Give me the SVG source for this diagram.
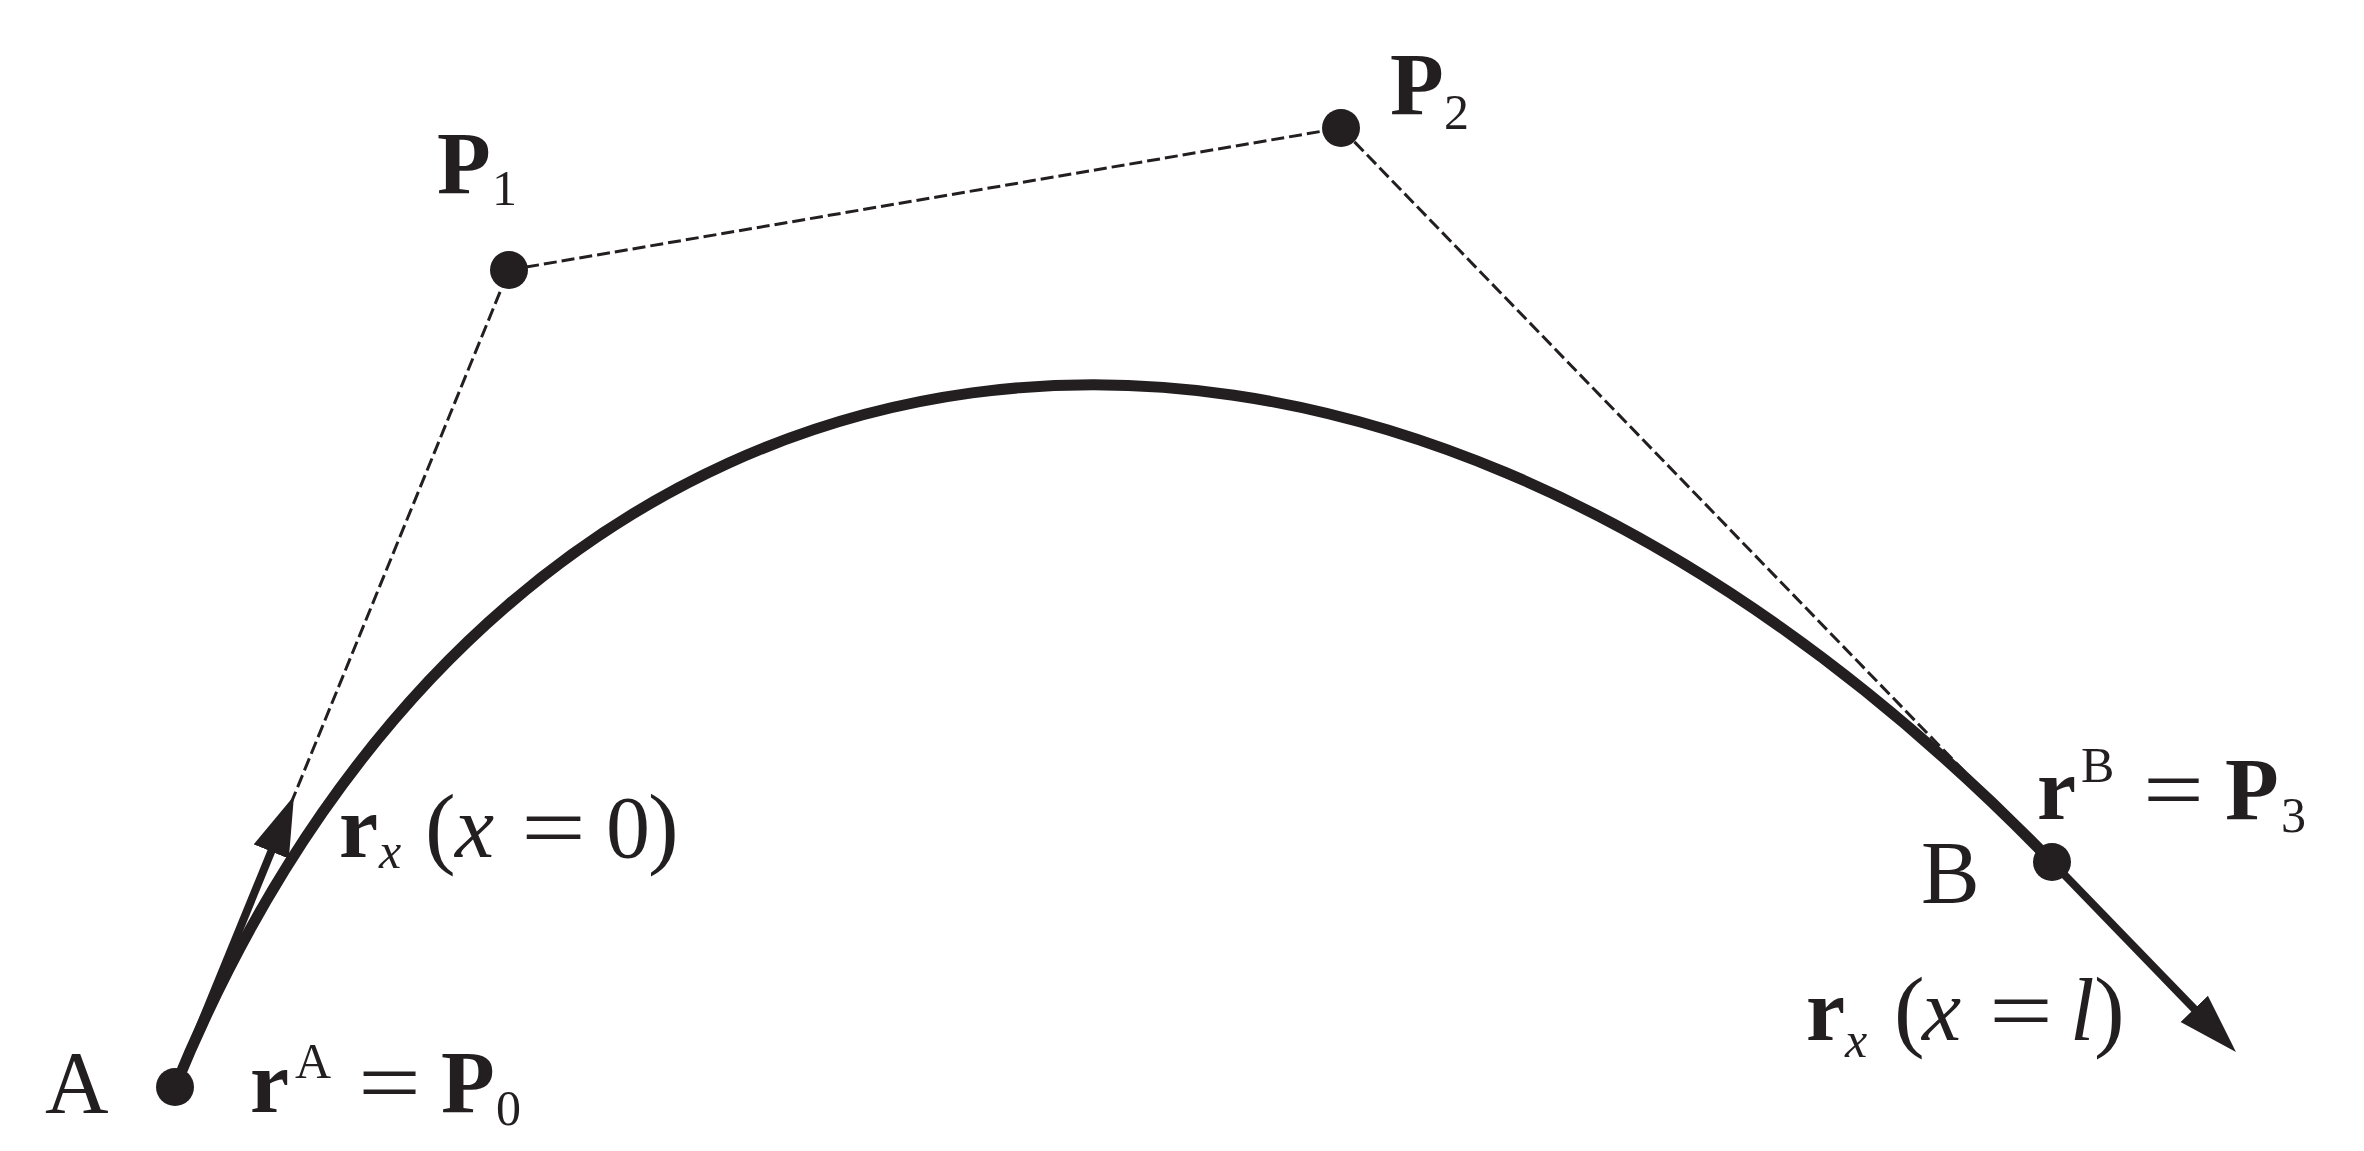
<svg xmlns="http://www.w3.org/2000/svg" width="2364" height="1151" viewBox="0 0 2364 1151">
<style>
.bg{fill:#ffffff}
.dash{fill:none;stroke:#231f20;stroke-width:3;stroke-dasharray:13 5}
.curve{fill:none;stroke:#231f20;stroke-width:11}
.arrow{fill:none;stroke:#231f20;stroke-width:8;marker-end:url(#ah)}
.dot{fill:#231f20}
text{font-family:"Liberation Serif","DejaVu Serif",serif;fill:#231f20}
.m{font-size:88px}
.b{font-weight:bold}
.s{font-size:50px}
.i{font-style:italic}
.p{font-size:92px}
</style>
<defs>
<marker id="ah" markerUnits="userSpaceOnUse" viewBox="0 -20 60 40" refX="30" refY="0" markerWidth="60" markerHeight="40" orient="auto">
<path d="M0,-19 L60,0 L0,19 z" fill="#231f20"/>
</marker>
</defs>
<rect class="bg" x="0" y="0" width="2364" height="1151"/>
<g id="connectors">
<path id="polygon" class="dash" d="M175,1087 L509,270 L1341,128 L2052,862"/>
<path id="curve" class="curve" d="M175,1087 C509,270 1341,128 2052,862"/>
<path id="tangentA" class="arrow" d="M175,1087 L282.6,823.8"/>
<path id="tangentB" class="arrow" d="M2052,862 L2215.1,1030.4"/>
</g>
<g id="P0">
<circle class="dot" cx="175" cy="1087" r="19"/>
<text class="m" x="45" y="1112">A</text>
<text class="m b" x="250" y="1112">r</text>
<text class="s" x="295" y="1078">A</text>
<text class="m" x="358" y="1112" textLength="63" lengthAdjust="spacingAndGlyphs">=</text>
<text class="m b" x="441" y="1112">P</text>
<text class="s" x="496" y="1125">0</text>
</g>
<g id="P1">
<circle class="dot" cx="509" cy="270" r="19"/>
<text class="m b" x="437" y="193">P</text>
<text class="s" x="492" y="205">1</text>
</g>
<g id="P2">
<circle class="dot" cx="1341" cy="128" r="19"/>
<text class="m b" x="1390" y="114">P</text>
<text class="s" x="1444" y="129">2</text>
</g>
<g id="P3">
<circle class="dot" cx="2052" cy="862" r="19"/>
<text class="m" x="1921" y="902">B</text>
<text class="m b" x="2037" y="819">r</text>
<text class="s" x="2081" y="782">B</text>
<text class="m" x="2143" y="819" textLength="61" lengthAdjust="spacingAndGlyphs">=</text>
<text class="m b" x="2225" y="819">P</text>
<text class="s" x="2281" y="832">3</text>
</g>
<g id="labelA">
<text class="m b" x="339" y="857">r</text>
<text class="s i" x="379" y="868">x</text>
<text class="p" x="425" y="857">(</text>
<text class="m i" x="455" y="857">x</text>
<text class="m" x="521" y="857" textLength="65" lengthAdjust="spacingAndGlyphs">=</text>
<text class="m" x="606" y="857">0</text>
<text class="p" x="648" y="857">)</text>
</g>
<g id="labelB">
<text class="m b" x="1806" y="1040">r</text>
<text class="s i" x="1845" y="1057">x</text>
<text class="p" x="1894" y="1040">(</text>
<text class="m i" x="1922" y="1040">x</text>
<text class="m" x="1989" y="1040" textLength="64" lengthAdjust="spacingAndGlyphs">=</text>
<text class="m i" x="2070" y="1040">l</text>
<text class="p" x="2094" y="1040">)</text>
</g>
</svg>
